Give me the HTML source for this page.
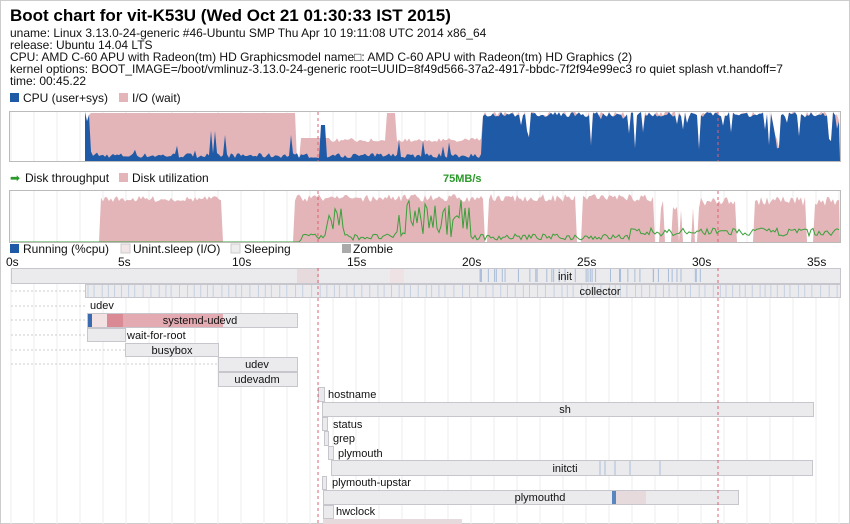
<!DOCTYPE html>
<html><head><meta charset="utf-8"><style>
body{margin:0;background:#fff;}
svg{display:block;font-family:"Liberation Sans",Arial,sans-serif;}
</style></head><body>
<svg id="s" width="850" height="524" xmlns="http://www.w3.org/2000/svg">
<rect x="0.5" y="0.5" width="849" height="523" fill="#fff" stroke="#ccc"/>
<text x="10" y="21" font-size="17" font-weight="bold" fill="#000">Boot chart for vit-K53U (Wed Oct 21 01:30:33 IST 2015)</text>
<g font-size="12" fill="#111">
<text x="10" y="37">uname: Linux 3.13.0-24-generic #46-Ubuntu SMP Thu Apr 10 19:11:08 UTC 2014 x86_64</text>
<text x="10" y="49">release: Ubuntu 14.04 LTS</text>
<text x="10" y="61">CPU: AMD C-60 APU with Radeon(tm) HD Graphicsmodel name□: AMD C-60 APU with Radeon(tm) HD Graphics (2)</text>
<text x="10" y="73">kernel options: BOOT_IMAGE=/boot/vmlinuz-3.13.0-24-generic root=UUID=8f49d566-37a2-4917-bbdc-7f2f94e99ec3 ro quiet splash vt.handoff=7</text>
<text x="10" y="85">time: 00:45.22</text>
<rect x="10" y="93" width="9" height="9" fill="#1f5aa6"/><text x="23" y="102">CPU (user+sys)</text>
<rect x="119" y="93" width="9" height="9" fill="#e3b4b8"/><text x="132" y="102">I/O (wait)</text>
<text x="10" y="182" fill="#2a9a2a">➡</text><text x="25" y="182">Disk throughput</text>
<rect x="119" y="173" width="9" height="9" fill="#e3b4b8"/><text x="132" y="182">Disk utilization</text>
<text x="443" y="182" fill="#2a9a2a" font-size="11" font-weight="bold">75MB/s</text>
<rect x="10" y="244" width="9" height="9" fill="#1f5aa6"/><text x="23" y="253">Running (%cpu)</text>
<rect x="121" y="244" width="9" height="9" fill="#f3e6e8" stroke="#ccc"/><text x="133" y="253">Unint.sleep (I/O)</text>
<rect x="231" y="244" width="9" height="9" fill="#eee" stroke="#ccc"/><text x="244" y="253">Sleeping</text>
<rect x="342" y="244" width="9" height="9" fill="#aaa"/><text x="353" y="253">Zombie</text>
<text x="6" y="266">0s</text><text x="118" y="266">5s</text><text x="232" y="266">10s</text><text x="347" y="266">15s</text><text x="462" y="266">20s</text><text x="577" y="266">25s</text><text x="692" y="266">30s</text><text x="807" y="266">35s</text>
</g>
<g id="grid"></g>
<g id="cpu"></g><g id="disk"></g>
<rect x="9.5" y="111.5" width="831" height="50" fill="none" stroke="#bbb"/>
<rect x="9.5" y="190.5" width="831" height="52" fill="none" stroke="#bbb"/>
<g id="procs" font-size="11" fill="#111"></g>
</svg>
<script>
var N="http://www.w3.org/2000/svg";
function el(p,t,a,txt){var e=document.createElementNS(N,t);for(var k in a)e.setAttribute(k,a[k]);if(txt)e.textContent=txt;p.appendChild(e);return e;}
var seed=7;function r(){seed=(seed*16807)%2147483647;return seed/2147483647;}
var g=document.getElementById('grid');
for(var x=11;x<840;x+=23){el(g,'line',{x1:x,y1:112,x2:x,y2:161,stroke:'#eee'});el(g,'line',{x1:x,y1:191,x2:x,y2:242,stroke:'#eee'});el(g,'line',{x1:x,y1:268,x2:x,y2:524,stroke:'#eee'});}
// CPU
var c=document.getElementById('cpu');
var ioP=[],cpP=[];
for(var x=85;x<=840;x+=2){var tp=161,ct=161;
 if(x<100){ct=(x<90)?112+r()*10:150+r()*8;tp=(x<90)?ct:113;}
 else if(x<297){tp=113;ct=158-(r()<0.1?r()*30:r()*5);}
 else if(x<330){tp=(x>300)?138:161;ct=158-r()*5;if(x>320&&x<326)ct=125;}
 else if(x<483){tp=(x>385&&x<397)?113:138+r()*4;ct=158-(r()<0.1?r()*25:r()*5);}
 else {ct=112+(r()<0.12?r()*40:r()*5);tp=ct-(r()<0.3?r()*15:0);if(tp<112)tp=112;}
 ioP.push(x+','+tp);cpP.push(x+','+ct);}
el(c,'polygon',{points:'85,161 '+ioP.join(' ')+' 840,161',fill:'#e3b4b8'});
el(c,'polygon',{points:'85,161 '+cpP.join(' ')+' 840,161',fill:'#1f5aa6'});
// disk
var d=document.getElementById('disk'),dp=[],gp=[];
for(var x=11;x<=840;x+=2){var t=242,gg=242;
 if(x>=100&&x<223)t=196+r()*6;
 else if(x>=295&&x<655&&!(x>483&&x<488)&&!(x>575&&x<583))t=194+r()*8;
 else if(x>=658&&x<700)t=(r()<0.5)?242:200+r()*10;
 else if(x>=700&&x<840)t=(x>735&&x<755)||(x>805&&x<815)?242:196+r()*10;
 if(x>300){gg=240-r()*6;if(x>325&&x<345)gg=205+r()*30;if(x>395&&x<470)gg=200+r()*40;if(x>630)gg=236-r()*8;}
 dp.push(x+','+t);gp.push(x+','+gg);}
el(d,'polygon',{points:'11,242 '+dp.join(' ')+' 840,242',fill:'#e3b4b8'});
el(d,'polyline',{points:gp.join(' '),fill:'none',stroke:'#3aa03a','stroke-width':1});
[318,718].forEach(function(x){[[112,161],[191,242],[268,524]].forEach(function(y){el(g.parentNode,'line',{x1:x,y1:y[0],x2:x,y2:y[1],stroke:'#e06070','stroke-dasharray':'3,3'});});});
// processes
var p=document.getElementById('procs');
function bar(x1,x2,y,h){el(p,'rect',{x:x1+.5,y:y+.5,width:x2-x1,height:h,fill:'#ebebee',stroke:'#c6c6cc'});}
function lab(x,y,s,mid){el(p,'text',mid?{x:x,y:y,'text-anchor':'middle'}:{x:x,y:y},s);}
function dots(x2,y){el(p,'line',{x1:11,y1:y,x2:x2,y2:y,stroke:'#ccc','stroke-dasharray':'2,2'});}
bar(11,840,268,15);
el(p,'rect',{x:297,y:269,width:22,height:14,fill:'#e6dadd'});el(p,'rect',{x:390,y:269,width:14,height:14,fill:'#efe2e4'});
for(var i=0;i<40;i++){var xx=480+r()*230;el(p,'line',{x1:xx,y1:269,x2:xx,y2:282,stroke:'#a8bcd8'});}
lab(565,280,'init',1);
bar(85,840,284,13);
for(var x=88;x<840;x+=5+r()*4)el(p,'line',{x1:x,y1:285,x2:x,y2:297,stroke:'#c4d0e2'});
lab(600,295,'collector',1);
dots(85,291);
lab(90,309,'udev');dots(85,306);
bar(87,297,313,14);
el(p,'rect',{x:88,y:314,width:4,height:13,fill:'#3a6ab0'});el(p,'rect',{x:92,y:314,width:15,height:13,fill:'#f3e2e4'});el(p,'rect',{x:107,y:314,width:16,height:13,fill:'#d98a94'});el(p,'rect',{x:123,y:314,width:100,height:13,fill:'#e3aab2'});
lab(200,324,'systemd-udevd',1);dots(87,320);
bar(87,125,328,13);lab(127,339,'wait-for-root');dots(87,335);
bar(125,218,343,13);lab(172,354,'busybox',1);dots(125,350);
bar(218,297,357,14);lab(257,368,'udev',1);dots(218,364);
bar(218,297,372,14);lab(257,383,'udevadm',1);
bar(318,324,387,14);lab(328,398,'hostname');
bar(322,813,402,14);lab(565,413,'sh',1);
bar(322,327,417,13);lab(333,428,'status');
bar(324,328,431,14);lab(333,442,'grep');
bar(328,333,446,13);lab(338,457,'plymouth');
bar(331,812,460,15);
[600,605,615,630,660].forEach(function(x){el(p,'line',{x1:x,y1:461,x2:x,y2:475,stroke:'#a8bcd8'});});
lab(565,472,'initcti',1);
bar(322,326,476,13);lab(332,486,'plymouth-upstar');
bar(323,738,490,14);
el(p,'rect',{x:612,y:491,width:4,height:13,fill:'#5a86c0'});el(p,'rect',{x:616,y:491,width:30,height:13,fill:'#e6dadd'});
lab(540,501,'plymouthd',1);
bar(323,333,505,13);lab(336,515,'hwclock');
el(p,'rect',{x:323,y:519,width:139,height:5,fill:'#e6dadd'});
</script>
</body></html>
